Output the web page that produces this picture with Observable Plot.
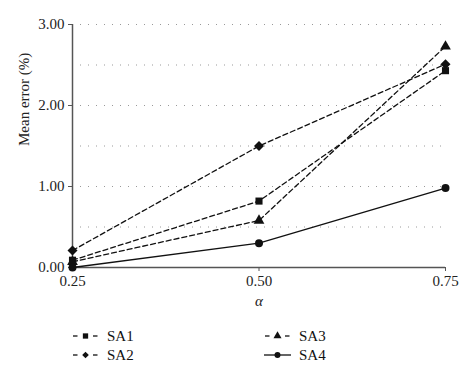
<!DOCTYPE html>
<html>
<head>
<meta charset="utf-8">
<script src="https://cdn.jsdelivr.net/npm/d3@7"></script>
<script src="https://cdn.jsdelivr.net/npm/@observablehq/plot@0.6"></script>
<style>
  html, body { margin: 0; padding: 0; background: #fff; }
  #wrap { width: 474px; height: 381px; position: relative; font-family: "Liberation Serif", serif; }
  #legend { display: grid; grid-template-columns: 192px 192px; padding-left: 72px; padding-top: 9px; row-gap: 1px; }
  .item { display: flex; align-items: center; height: 18px; font-size: 15px; color: #111; }
  .item svg { margin-right: 8px; }
</style>
</head>
<body>
<div id="wrap"><div id="chart"></div><div id="legend"></div></div>
<script>
const alphas = [0.25, 0.50, 0.75];
const sa1 = [0.09, 0.82, 2.43];
const sa2 = [0.21, 1.50, 2.51];
const sa3 = [0.07, 0.58, 2.73];
const sa4 = [0.00, 0.30, 0.98];
const seriesNames = ["SA1", "SA2", "SA3", "SA4"];
const seriesSymbols = ["square", "diamond2", "triangle", "circle"];
const seriesDash = ["5,3", "5,3", "5,3", null];
const yTicks = [0, 1, 2, 3];
const gridValues = [0.5, 1, 1.5, 2, 2.5, 3];

const allSeries = [sa1, sa2, sa3, sa4];
const rows = [];
allSeries.forEach((vals, i) => vals.forEach((v, j) => rows.push({series: seriesNames[i], alpha: alphas[j], value: v})));

const lineMarks = seriesNames.map((name, i) =>
  Plot.line(rows.filter(d => d.series === name), {x: "alpha", y: "value", stroke: "#111", strokeWidth: 1.3, strokeDasharray: seriesDash[i]}));
const dotMarks = seriesNames.map((name, i) =>
  Plot.dot(rows.filter(d => d.series === name), {x: "alpha", y: "value", symbol: () => seriesSymbols[i], fill: "#111", r: name === "SA2" ? 4.5 : 4}));

const chart = Plot.plot({
  width: 474,
  height: 318,
  marginLeft: 72,
  marginRight: 29,
  marginTop: 24,
  marginBottom: 51,
  style: {fontFamily: "Liberation Serif, serif", fontSize: "14px", color: "#222", background: "#fff"},
  x: {domain: [0.25, 0.75]},
  y: {domain: [0, 3]},
  marks: [
    Plot.ruleY(gridValues, {stroke: "#999", strokeDasharray: "1,7", strokeWidth: 1.2}),
    Plot.axisY({ticks: yTicks, tickFormat: d3.format(".2f"), tickSize: 4, tickPadding: 4, label: null, stroke: "#555", fontSize: 15}),
    Plot.axisX({ticks: alphas, tickFormat: d3.format(".2f"), tickSize: 4, tickPadding: 4, label: null, stroke: "#555", fontSize: 15}),
    Plot.ruleX([0.25], {stroke: "#555", strokeWidth: 1.5}),
    Plot.ruleY([0], {stroke: "#555", strokeWidth: 1.5}),
    Plot.text(["Mean error (%)"], {frameAnchor: "left", dx: -48, rotate: -90, fontSize: 15, fill: "#222"}),
    Plot.text(["α"], {frameAnchor: "bottom", dy: 38, fontSize: 15, fontStyle: "italic", fill: "#222"}),
    ...lineMarks,
    ...dotMarks
  ]
});
document.getElementById("chart").appendChild(chart);

// legend
const legendOrder = [0, 2, 1, 3];
const legend = document.getElementById("legend");
const ns = "http://www.w3.org/2000/svg";
function seg(svg, x1, x2) {
  const line = document.createElementNS(ns, "line");
  line.setAttribute("x1", x1); line.setAttribute("x2", x2);
  line.setAttribute("y1", "6"); line.setAttribute("y2", "6");
  line.setAttribute("stroke", "#111"); line.setAttribute("stroke-width", "1.3");
  svg.appendChild(line);
}
legendOrder.forEach(i => {
  const item = document.createElement("div");
  item.className = "item";
  const svg = document.createElementNS(ns, "svg");
  svg.setAttribute("width", "27");
  svg.setAttribute("height", "12");
  if (seriesDash[i]) { seg(svg, 1, 5.5); seg(svg, 21, 25.5); }
  else seg(svg, 0, 27);
  const sym = d3.symbol().type({square: d3.symbolSquare, diamond2: d3.symbolDiamond2, triangle: d3.symbolTriangle, circle: d3.symbolCircle}[seriesSymbols[i]]).size(28);
  const p = document.createElementNS(ns, "path");
  p.setAttribute("d", sym());
  p.setAttribute("transform", "translate(13.5,6)");
  p.setAttribute("fill", "#111");
  svg.appendChild(p);
  item.appendChild(svg);
  const t = document.createElement("span");
  t.textContent = seriesNames[i];
  item.appendChild(t);
  legend.appendChild(item);
});
</script>
</body>
</html>
